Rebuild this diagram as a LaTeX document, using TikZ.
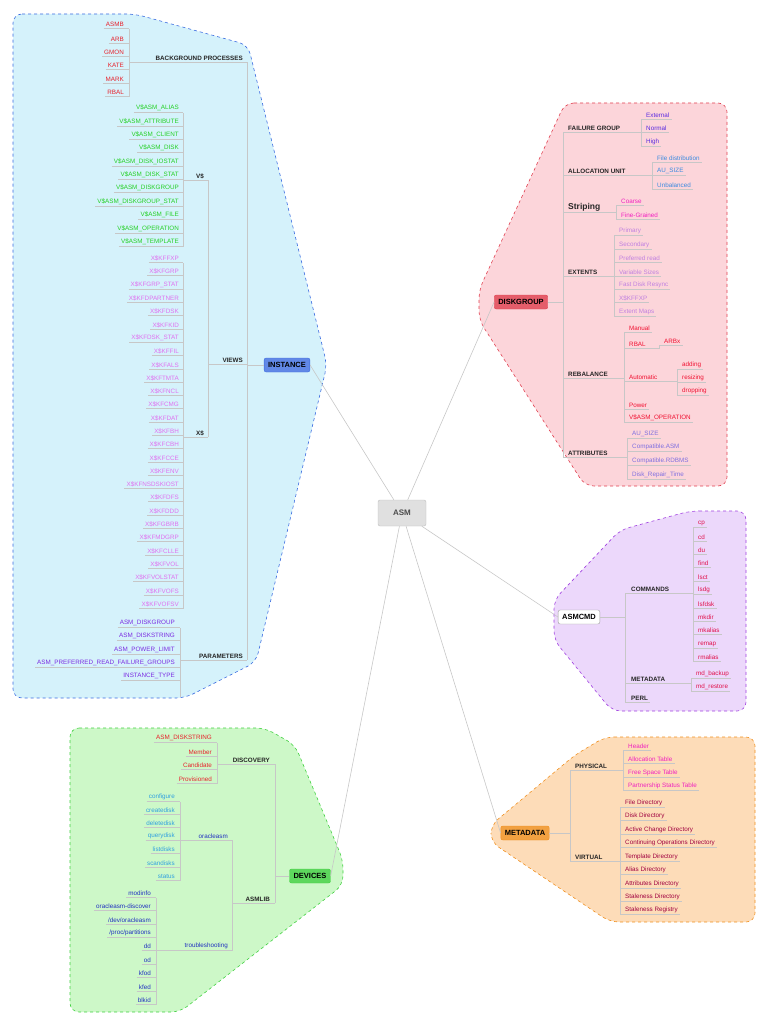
\documentclass[tikz,border=0pt]{standalone}
\usepackage{fontspec}
\setmainfont{Liberation Sans}
\definecolor{cRed}{HTML}{E8202A}
\definecolor{cGreen}{HTML}{22D022}
\definecolor{cPink}{HTML}{E070F0}
\definecolor{cPurple}{HTML}{7A2BE2}
\definecolor{cBlueP}{HTML}{5A2BE0}
\definecolor{cLBlue}{HTML}{3A8AE0}
\definecolor{cMag}{HTML}{F020C0}
\definecolor{cLPur}{HTML}{C080E0}
\definecolor{cRed2}{HTML}{F01030}
\definecolor{cAttr}{HTML}{8070E0}
\definecolor{cCmd}{HTML}{E0104A}
\definecolor{cDRed}{HTML}{A00040}
\definecolor{cOra}{HTML}{30A0E0}
\definecolor{cTs}{HTML}{2030C0}
\definecolor{fInst}{HTML}{D5F2FB}\definecolor{bInst}{HTML}{3A6AE0}
\definecolor{fDg}{HTML}{FCD5DA}\definecolor{bDg}{HTML}{E04050}
\definecolor{fCmd}{HTML}{ECD8FB}\definecolor{bCmd}{HTML}{A040E0}
\definecolor{fMd}{HTML}{FDDCB8}\definecolor{bMd}{HTML}{F09020}
\definecolor{fDev}{HTML}{CDF8C8}\definecolor{bDev}{HTML}{40D040}
\tikzset{
 leaf/.style={font=\fontsize{6.3}{7}\selectfont, inner xsep=2pt, inner ysep=1.6pt},
 lbl/.style={font=\fontsize{6.3}{7}\selectfont\bfseries, inner xsep=2pt, inner ysep=1.6pt, text=black!85},
 conn/.style={draw=black!22, line width=0.6pt},
 main/.style={font=\fontsize{7.5}{9}\selectfont\bfseries, rounded corners=2pt, inner xsep=4pt, inner ysep=3pt, minimum height=14pt},
 blob/.style={dashed, line width=0.6pt, rounded corners=9pt}
}
\newcommand\fsl{/}
\newcommand\grpL[7]{%
 \coordinate (#1bx) at (#2,0);
 \foreach \yy/\lab [count=\i] in {#7} {\node[leaf,text=#4,anchor=east] (#1\i) at (#3,\yy) {\lab};
  \draw[conn] (#1\i.south west) -- (#1\i.south -| #1bx);}
 \draw[conn] (#2,#5+5) -- (#2,#6+5);}
\newcommand\grpR[7]{%
 \coordinate (#1bx) at (#2,0);
 \foreach \yy/\lab [count=\i] in {#7} {\node[leaf,text=#4,anchor=west] (#1\i) at (#3,\yy) {\lab};
  \draw[conn] (#1\i.south -| #1bx) -- (#1\i.south east);}
 \draw[conn] (#2,#5+5) -- (#2,#6+5);}
\begin{document}
\begin{tikzpicture}[x=1pt,y=-1pt]
\useasboundingbox (0,0) rectangle (768,1024);
% blobs
\draw[blob,draw=bInst,fill=fInst] (13,14)--(135,14)--(248,45)--(327,365)--(256,662)--(185,698)--(13,698)--cycle;
\draw[blob,draw=bDg,fill=fDg] (565,103)--(727,103)--(727,486)--(585,486)--(479,320)--(479,290)--cycle;
\draw[blob,draw=bCmd,fill=fCmd] (690,511)--(746,511)--(746,711)--(612,711)--(554,640)--(554,600)--(620,530)--cycle;
\draw[blob,draw=bMd,fill=fMd] (605,737)--(755,737)--(755,922)--(610,922)--(491,842)--(491,825)--(575,755)--cycle;
\draw[blob,draw=bDev,fill=fDev] (70,728)--(265,728)--(295,745)--(343,860)--(343,885)--(180,1012)--(70,1012)--cycle;

% ===== INSTANCE =====
\coordinate (itr) at (247,0);
\grpL{bp}{129}{126}{cRed}{24}{92}{24/ASMB,39/ARB,52/GMON,65/KATE,79/MARK,92/RBAL}
\grpL{vs}{183}{181}{cGreen}{108}{242}{108/V\$ASM\_ALIAS,122/V\$ASM\_ATTRIBUTE,135/V\$ASM\_CLIENT,148/V\$ASM\_DISK,162/V\$ASM\_DISK\_IOSTAT,175/V\$ASM\_DISK\_STAT,188/V\$ASM\_DISKGROUP,202/V\$ASM\_DISKGROUP\_STAT,215/V\$ASM\_FILE,229/V\$ASM\_OPERATION,242/V\$ASM\_TEMPLATE}
\grpL{xs}{183}{181}{cPink}{258}{604}{258/X\$KFFXP,271/X\$KFGRP,285/X\$KFGRP\_STAT,298/X\$KFDPARTNER,311/X\$KFDSK,325/X\$KFKID,338/X\$KFDSK\_STAT,351/X\$KFFIL,365/X\$KFALS,378/X\$KFTMTA,391/X\$KFNCL,404/X\$KFCMG,418/X\$KFDAT,431/X\$KFBH,444/X\$KFCBH,458/X\$KFCCE,471/X\$KFENV,484/X\$KFNSDSKIOST,497/X\$KFDFS,511/X\$KFDDD,524/X\$KFGBRB,537/X\$KFMDGRP,551/X\$KFCLLE,564/X\$KFVOL,577/X\$KFVOLSTAT,591/X\$KFVOFS,604/X\$KFVOFSV}
\grpL{pa}{180}{177}{cPurple}{623}{692}{623/ASM\_DISKGROUP,636/ASM\_DISKSTRING,650/ASM\_POWER\_LIMIT,663/ASM\_PREFERRED\_READ\_FAILURE\_GROUPS,676/INSTANCE\_TYPE}
\node[lbl,anchor=east] (bgp) at (245,58) {BACKGROUND PROCESSES};
\draw[conn] (bgp.south -| bpbx) -- (bgp.south -| itr);
\coordinate (vwbx) at (208,0);
\node[lbl,anchor=east] (vsl) at (206,176) {V\$};
\node[lbl,anchor=east] (xsl) at (206,433) {X\$};
\draw[conn] (vsl.south -| vsbx) -- (vsl.south -| vwbx);
\draw[conn] (xsl.south -| xsbx) -- (xsl.south -| vwbx);
\draw[conn] (vsl.south -| vwbx) -- (xsl.south -| vwbx);
\node[lbl,anchor=east] (views) at (245,360) {VIEWS};
\draw[conn] (views.south -| vwbx) -- (views.south -| itr);
\node[lbl,anchor=east] (params) at (245,656) {PARAMETERS};
\draw[conn] (params.south -| pabx) -- (params.south -| itr);
\draw[conn] (bgp.south -| itr) -- (params.south -| itr);
\node[main,fill=bInst!80,draw=bInst] (inst) at (287,365) {INSTANCE};
\draw[conn] (inst.west) -- (inst.west -| itr);

% ===== DISKGROUP =====
\coordinate (dtr) at (563,0);
\node[lbl,anchor=west] (fg) at (566,128) {FAILURE GROUP};
\grpR{fgc}{641}{644}{cBlueP}{115}{142}{115/External,128/Normal,142/High}
\draw[conn] (fg.south -| dtr) -- (fg.south -| fgcbx);
\node[lbl,anchor=west] (al) at (566,171) {ALLOCATION UNIT};
\grpR{au}{652}{655}{cLBlue}{158}{185}{158/File distribution,171/AU\_SIZE,185/Unbalanced}
\draw[conn] (al.south -| dtr) -- (al.south -| aubx);
\node[lbl,anchor=west,font=\fontsize{8.5}{10}\selectfont\bfseries] (st) at (566,207) {Striping};
\grpR{stc}{616}{619}{cMag}{201}{215}{201/Coarse,215/Fine-Grained}
\draw[conn] (st.south -| dtr) -- (st.south -| stcbx);
\node[lbl,anchor=west] (ext) at (566,272) {EXTENTS};
\grpR{ex}{614}{617}{cLPur}{231}{312}{231/Primary,245/Secondary,258/Preferred read,272/Variable Sizes,285/Fast Disk Resync,298/X\$KFFXP,312/Extent Maps}
\draw[conn] (ext.south -| dtr) -- (ext.south -| exbx);
\node[lbl,anchor=west] (reb) at (566,374) {REBALANCE};
\grpR{rb}{624}{627}{cRed2}{328}{418}{328/Manual,344/RBAL,377/Automatic,405/Power,418/V\$ASM\_OPERATION}
\draw[conn] (reb.south -| dtr) -- (reb.south -| rbbx);
\grpR{ar}{659}{662}{cRed2}{341}{344}{341/ARBx}
\draw[conn] (rb2.south east) -- (rb2.south -| arbx);
\grpR{amc}{677}{680}{cRed2}{365}{391}{365/adding,378/resizing,391/dropping}
\draw[conn] (rb3.south east) -- (rb3.south -| amcbx);
\node[lbl,anchor=west] (atl) at (566,453) {ATTRIBUTES};
\grpR{at}{627}{630}{cAttr}{434}{475}{434/AU\_SIZE,447/Compatible.ASM,461/Compatible.RDBMS,475/Disk\_Repair\_Time}
\draw[conn] (atl.south -| dtr) -- (atl.south -| atbx);
\draw[conn] (fg.south -| dtr) -- (atl.south -| dtr);
\node[main,fill=bDg!85,draw=bDg] (dg) at (521,302) {DISKGROUP};
\draw[conn] (dg.east) -- (dg.east -| dtr);

% ===== ASMCMD =====
\coordinate (ctr) at (625,0);
\node[lbl,anchor=west] (cmds) at (629,589) {COMMANDS};
\grpR{cm}{693}{696}{cCmd}{523}{657}{523/cp,537/cd,550/du,563/find,577/lsct,590/lsdg,604/lsfdsk,617/mkdir,630/mkalias,644/remap,657/rmalias}
\draw[conn] (cmds.south -| ctr) -- (cmds.south -| cmbx);
\node[lbl,anchor=west] (mdl) at (629,679) {METADATA};
\grpR{md}{691}{694}{cCmd}{674}{687}{674/md\_backup,687/md\_restore}
\draw[conn] (mdl.south -| ctr) -- (mdl.south -| mdbx);
\node[lbl,anchor=west] (perl) at (629,698) {PERL};
\draw[conn] (perl.south -| ctr) -- (perl.south east);
\draw[conn] (cmds.south -| ctr) -- (perl.south -| ctr);
\node[main,fill=white,draw=black!40] (cmd) at (579,617) {ASMCMD};
\draw[conn] (cmd.east) -- (cmd.east -| ctr);

% ===== METADATA =====
\coordinate (mtr) at (570,0);
\node[lbl,anchor=west] (phy) at (573,766) {PHYSICAL};
\grpR{ph}{623}{626}{cMag}{746}{786}{746/Header,759/Allocation Table,773/Free Space Table,786/Partnership Status Table}
\draw[conn] (phy.south -| mtr) -- (phy.south -| phbx);
\node[lbl,anchor=west] (vir) at (573,857) {VIRTUAL};
\grpR{vi}{620}{623}{cDRed}{803}{910}{803/File Directory,816/Disk Directory,830/Active Change Directory,843/Continuing Operations Directory,857/Template Directory,870/Alias Directory,884/Attributes Directory,897/Staleness Directory,910/Staleness Registry}
\draw[conn] (vir.south -| mtr) -- (vir.south -| vibx);
\draw[conn] (phy.south -| mtr) -- (vir.south -| mtr);
\node[main,fill=bMd!85,draw=bMd] (meta) at (525,833) {METADATA};
\draw[conn] (meta.east) -- (meta.east -| mtr);

% ===== DEVICES =====
\coordinate (dvtr) at (275,0);
\coordinate (asbx) at (232,0);
\node[lbl,anchor=east] (disc) at (272,760) {DISCOVERY};
\grpL{di}{217}{214}{cRed}{738}{779}{738/ASM\_DISKSTRING,752/Member,765/Candidate,779/Provisioned}
\draw[conn] (disc.south -| dibx) -- (disc.south -| dvtr);
\node[lbl,anchor=east] (asml) at (272,899) {ASMLIB};
\draw[conn] (asml.south -| asbx) -- (asml.south -| dvtr);
\node[leaf,anchor=east,text=cTs] (ora) at (230,836) {oracleasm};
\grpL{oa}{180}{177}{cOra}{797}{876}{797/configure,810/createdisk,823/deletedisk,836/querydisk,849/listdisks,863/scandisks,876/status}
\draw[conn] (ora.south -| oabx) -- (ora.south -| asbx);
\node[leaf,anchor=east,text=cTs] (trb) at (230,946) {troubleshooting};
\grpL{ts}{156}{153}{cTs}{893}{1000}{893/modinfo,906/oracleasm-discover,920/\fsl dev\fsl oracleasm,933/\fsl proc\fsl partitions,946/dd,960/od,973/kfod,987/kfed,1000/blkid}
\draw[conn] (trb.south -| tsbx) -- (trb.south -| asbx);
\draw[conn] (ora.south -| asbx) -- (trb.south -| asbx);
\draw[conn] (disc.south -| dvtr) -- (asml.south -| dvtr);
\node[main,fill=bDev!85,draw=bDev] (dev) at (310,876) {DEVICES};
\draw[conn] (dev.west) -- (dev.west -| dvtr);

% ===== ASM =====
\node[main,fill=black!12,draw=black!25,minimum width=48pt,minimum height=26pt,font=\fontsize{8}{10}\selectfont\bfseries,text=black!70] (asm) at (402,513) {ASM};
\draw[conn] (asm) -- (inst.east);
\draw[conn] (asm) -- (dg.west);
\draw[conn] (asm) -- (cmd.west);
\draw[conn] (asm) -- (meta.west);
\draw[conn] (asm) -- (dev.east);
\end{tikzpicture}
\end{document}
